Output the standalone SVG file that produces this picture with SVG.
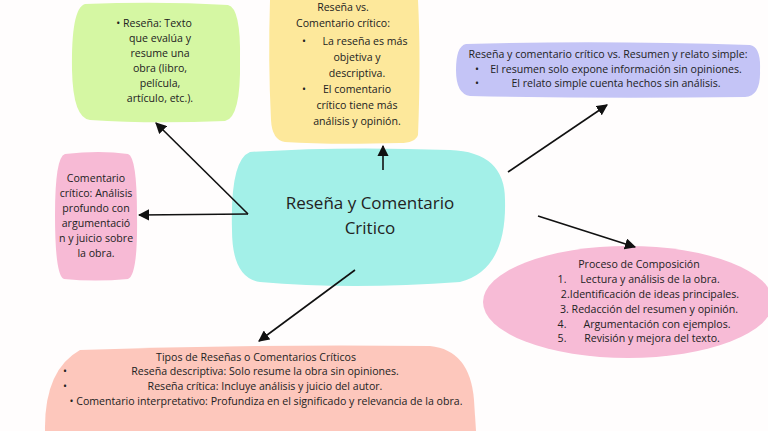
<svg xmlns="http://www.w3.org/2000/svg" width="768" height="431" viewBox="0 0 768 431">
<style>
text{font-family:"Open Sans","Noto Sans",sans-serif;font-size:10.6px;fill:#222;text-anchor:middle}
.c{font-size:17px}
line{stroke:#111;stroke-width:1.6;marker-end:url(#a)}
</style>
<defs><marker id="a" viewBox="0 0 10 10" refX="9" refY="5" markerWidth="7" markerHeight="7" orient="auto"><path d="M0,0L10,5L0,10z" fill="#111"/></marker></defs>
<rect width="768" height="431" fill="#fffdfd"/>
<g id="center"><path d="M250,152 Q340,146 450,150 Q505,152 505,200 Q507,270 460,282 Q350,290 260,282 Q232,278 232,230 Q230,160 250,152z" fill="#a3f0e8"/>
<text class="c" x="370" y="209">Reseña y Comentario</text><text class="c" x="370" y="234">Critico</text></g>
<g id="green"><path d="M85,4 Q160,1 228,5 Q241,8 240,60 Q241,118 225,121 Q150,124 90,120 Q73,118 72,70 Q71,8 85,4z" fill="#d5f7a3"/>
<text x="154" y="27">• Reseña: Texto</text><text x="160" y="42">que evalúa y</text><text x="160" y="57">resume una</text><text x="160" y="72">obra (libro,</text><text x="160" y="87">película,</text><text x="160" y="102">artículo, etc.).</text></g>
<g id="yellow"><path d="M270,0 L418,0 Q421,60 418,135 Q415,143 400,143 Q330,145 285,142 Q272,140 271,120 Q268,60 270,0z" fill="#fde89b"/>
<text x="343" y="11">Reseña vs.</text><text x="343" y="27">Comentario crítico:</text>
<text x="304" y="45">•</text><text x="365" y="45">La reseña es más</text><text x="357" y="61">objetiva y</text><text x="357" y="77">descriptiva.</text>
<text x="304" y="93">•</text><text x="357" y="93">El comentario</text><text x="357" y="109">crítico tiene más</text><text x="357" y="125">análisis y opinión.</text></g>
<g id="purple"><path d="M466,44 Q600,40 750,45 Q761,47 760,70 Q761,96 745,97 Q600,99 470,96 Q456,94 456,70 Q456,46 466,44z" fill="#c4c4f6"/>
<text x="608" y="58">Reseña y comentario crítico vs. Resumen y relato simple:</text>
<text x="477" y="73">•</text><text x="616" y="73">El resumen solo expone información sin opiniones.</text>
<text x="477" y="87">•</text><text x="616" y="87">El relato simple cuenta hechos sin análisis.</text></g>
<g id="pinkleft"><path d="M65,154 Q100,150 128,154 Q137,157 137,215 Q138,275 128,279 Q95,282 64,279 Q55,276 55,215 Q55,157 65,154z" fill="#f7bad5"/>
<text x="96" y="182">Comentario</text><text x="96" y="197">crítico: Análisis</text><text x="96" y="212">profundo con</text><text x="96" y="227">argumentació</text><text x="96" y="242">n y juicio sobre</text><text x="96" y="257">la obra.</text></g>
<g id="ellipse"><ellipse cx="628" cy="302" rx="145" ry="56" fill="#f7bbd6"/>
<text x="639" y="268">Proceso de Composición</text>
<text x="562" y="283">1.</text><text x="650" y="283">Lectura y análisis de la obra.</text>
<text x="650" y="298">2.Identificación de ideas principales.</text>
<text x="649" y="313">3. Redacción del resumen y opinión.</text>
<text x="562" y="328">4.</text><text x="657" y="328">Argumentación con ejemplos.</text>
<text x="562" y="342">5.</text><text x="652" y="342">Revisión y mejora del texto.</text></g>
<g id="salmon"><path d="M80,350 Q250,344 430,346 Q470,350 474,400 L476,431 L45,431 Q44,370 80,350z" fill="#fdc7bc"/>
<text x="256" y="361">Tipos de Reseñas o Comentarios Críticos</text>
<text x="65" y="375">•</text><text x="265" y="375">Reseña descriptiva: Solo resume la obra sin opiniones.</text>
<text x="65" y="390">•</text><text x="265" y="390">Reseña crítica: Incluye análisis y juicio del autor.</text>
<text x="266" y="405">• Comentario interpretativo: Profundiza en el significado y relevancia de la obra.</text></g>
<g id="connectors">
<line x1="248" y1="214" x2="156" y2="123"/>
<line x1="248" y1="214" x2="139" y2="215"/>
<line x1="383" y1="170" x2="383" y2="146"/>
<line x1="508" y1="172" x2="607" y2="105"/>
<line x1="538" y1="216" x2="635" y2="247"/>
<line x1="355" y1="270" x2="259" y2="341"/>
</g>
</svg>
